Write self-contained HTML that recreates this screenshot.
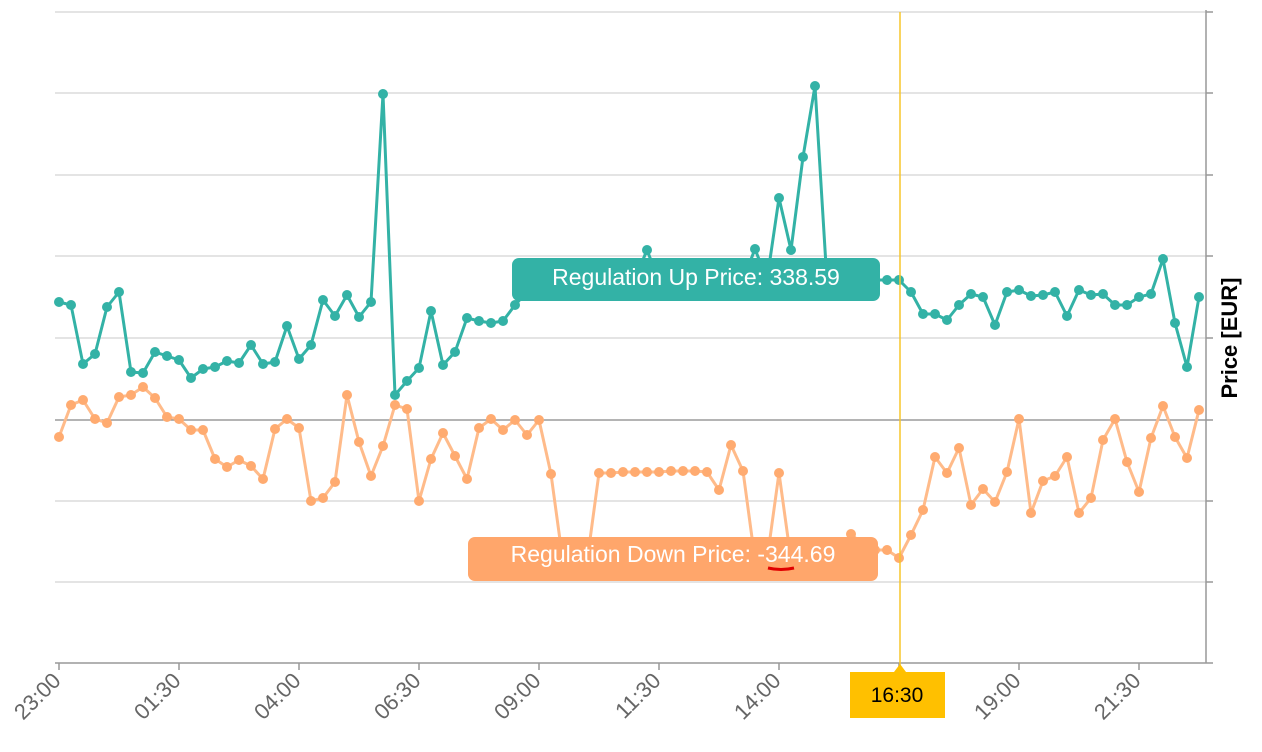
<!DOCTYPE html>
<html><head><meta charset="utf-8"><style>
html,body{margin:0;padding:0;background:#fff;width:1262px;height:752px;overflow:hidden}
svg{display:block;font-family:"Liberation Sans",Arial,sans-serif}
</style></head><body>
<svg id="c" width="1262" height="752" xmlns="http://www.w3.org/2000/svg">
<g stroke="#dcdcdc" stroke-width="1.5">
<line x1="55" x2="1206" y1="12" y2="12"/><line x1="55" x2="1206" y1="93" y2="93"/>
<line x1="55" x2="1206" y1="175" y2="175"/><line x1="55" x2="1206" y1="256" y2="256"/>
<line x1="55" x2="1206" y1="338" y2="338"/><line x1="55" x2="1206" y1="501" y2="501"/>
<line x1="55" x2="1206" y1="582" y2="582"/>
</g>
<line x1="55" x2="1206" y1="420" y2="420" stroke="#888" stroke-width="1.3"/>
<line x1="55" x2="1206" y1="663" y2="663" stroke="#999" stroke-width="1.5"/>
<line x1="1206" x2="1206" y1="10" y2="663" stroke="#999" stroke-width="1.5"/>
<g stroke="#999" stroke-width="1.5">
<line x1="1206" x2="1213" y1="12" y2="12"/><line x1="1206" x2="1213" y1="93" y2="93"/>
<line x1="1206" x2="1213" y1="175" y2="175"/><line x1="1206" x2="1213" y1="256" y2="256"/>
<line x1="1206" x2="1213" y1="338" y2="338"/><line x1="1206" x2="1213" y1="420" y2="420"/>
<line x1="1206" x2="1213" y1="501" y2="501"/><line x1="1206" x2="1213" y1="582" y2="582"/>
<line x1="1206" x2="1213" y1="663" y2="663"/>
</g>
<text x="1237" y="338" transform="rotate(-90 1237 338)" text-anchor="middle" font-size="22" font-weight="bold" fill="#000">Price [EUR]</text>
<g id="ticks"></g>
<g id="series"></g>
<line x1="900" x2="900" y1="12" y2="668" stroke="#f7c52b" stroke-width="1.5"/>
<polygon points="894,672 906,672 900,664" fill="#ffc000"/>
<rect x="850" y="672" width="95" height="46" fill="#ffc000"/>
<text x="897" y="702" text-anchor="middle" font-size="21" fill="#000">16:30</text>
<rect x="512" y="258" width="368" height="43" rx="7" fill="#33b2a6"/>
<text x="696" y="285" text-anchor="middle" font-size="23" fill="#fff">Regulation Up Price: 338.59</text>
<rect x="468" y="537" width="410" height="44" rx="7" fill="#ffa66b"/>
<text x="673" y="562" text-anchor="middle" font-size="23" fill="#fff">Regulation Down Price: -344.69</text>
<path d="M768 568 Q781 571 794 568" stroke="#e00000" stroke-width="3" fill="none"/>
</svg>
<script>
var up=[302,305,364,354,307,292,372,373,352,356,360,378,369,367,361,363,345,364,362,326,359,345,300,316,295,317,302,94,395,381,368,311,365,352,318,321,323,321,305,292,285,282,280,280,281,282,280,280,279,250,281,280,280,281,282,280,281,280,249,280,198,250,157,86,282,281,281,280,280,280,280,292,314,314,320,305,294,297,325,292,290,296,295,292,316,290,295,294,305,305,297,294,259,323,367,297];
var dn=[437,405,400,419,423,397,395,387,398,417,419,430,430,459,467,460,466,479,429,419,428,501,498,482,395,442,476,446,405,409,501,459,433,456,479,428,419,430,420,435,420,474,562,562,562,473,473,472,472,472,472,471,471,471,472,490,445,471,560,560,473,560,560,560,555,550,534,545,550,550,558,535,510,457,473,448,505,489,502,472,419,513,481,476,457,513,498,440,419,462,492,438,406,437,458,410];
function X(i){return 59+12*i}
var s='';
function ser(a,lc,dc){var p=a.map(function(y,i){return X(i)+','+y}).join(' ');
s+='<polyline points="'+p+'" fill="none" stroke="'+lc+'" stroke-width="3" stroke-linejoin="round"/>';
a.forEach(function(y,i){s+='<circle cx="'+X(i)+'" cy="'+y+'" r="5" fill="'+dc+'"/>';});}
ser(dn,'#ffbb8a','#ffab70');
ser(up,'#33b2a6','#33b2a6');
document.getElementById('series').innerHTML=s;
var labs=['23:00','01:30','04:00','06:30','09:00','11:30','14:00','','19:00','21:30'];
var t='';
labs.forEach(function(l,k){var x=59+120*k;t+='<line x1="'+x+'" x2="'+x+'" y1="663" y2="670" stroke="#999" stroke-width="1.5"/>';
if(l)t+='<text x="'+(x+3)+'" y="682" transform="rotate(-45 '+(x+3)+' 682)" text-anchor="end" font-size="22" fill="#666">'+l+'</text>';});
document.getElementById('ticks').innerHTML=t;
</script>
</body></html>
